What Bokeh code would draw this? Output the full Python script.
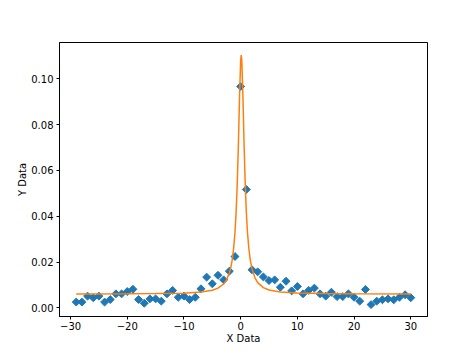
import math
from bokeh.plotting import figure
from bokeh.models import Range1d, FixedTicker
from bokeh.embed import file_html
from bokeh.resources import INLINE

# measured data points
x_data = [-29, -28, -27, -26, -25, -24, -23, -22, -21, -20,
          -19, -18, -17, -16, -15, -14, -13, -12, -11, -10,
          -9, -8, -7, -6, -5, -4, -3, -2, -1, 0,
          1, 2, 3, 4, 5, 6, 7, 8, 9, 10,
          11, 12, 13, 14, 15, 16, 17, 18, 19, 20,
          21, 22, 23, 24, 25, 26, 27, 28, 29, 30]
y_data = [0.0025, 0.0025, 0.0051, 0.0044, 0.0051, 0.0025, 0.0036, 0.0061, 0.0061, 0.0071,
          0.0081, 0.0036, 0.0020, 0.0039, 0.0039, 0.0029, 0.0061, 0.0076, 0.0046, 0.0051,
          0.0036, 0.0046, 0.0083, 0.0134, 0.0105, 0.0142, 0.0122, 0.0160, 0.0224, 0.0967,
          0.0517, 0.0166, 0.0157, 0.0135, 0.0119, 0.0122, 0.0090, 0.0116, 0.0074, 0.0093,
          0.0061, 0.0076, 0.0086, 0.0061, 0.0051, 0.0068, 0.0049, 0.0049, 0.0061, 0.0046,
          0.0029, 0.0080, 0.0014, 0.0029, 0.0035, 0.0039, 0.0035, 0.0046, 0.0057, 0.0044]

# fitted curve
fit_x = [-29, -20, -15, -10, -7, -5, -4, -3, -2.5, -2, -1.75, -1.5, -1.25, -1, -0.8,
         -0.6, -0.4, -0.2, 0, 0.1, 0.2, 0.4, 0.6, 0.8, 1.0, 1.2, 1.45, 1.7, 2.0, 2.5,
         3, 4, 5, 7, 10, 15, 20, 30]
fit_y = [0.0060, 0.0061, 0.0062, 0.0064, 0.0069, 0.0077, 0.0086, 0.0104, 0.0122, 0.0152,
         0.0175, 0.0208, 0.0257, 0.0330, 0.0418, 0.0544, 0.0716, 0.0922, 0.1080, 0.1104,
         0.1080, 0.0922, 0.0716, 0.0544, 0.0418, 0.0330, 0.0257, 0.0208, 0.0170, 0.0132,
         0.0110, 0.0088, 0.0078, 0.0069, 0.0065, 0.0062, 0.0061, 0.0060]

x_ticks = [-30, -20, -10, 0, 10, 20, 30]
x_tick_labels = ["\u221230", "\u221220", "\u221210", "0", "10", "20", "30"]
y_ticks = [0.0, 0.02, 0.04, 0.06, 0.08, 0.10]
y_tick_labels = ["0.00", "0.02", "0.04", "0.06", "0.08", "0.10"]

p = figure(width=474, height=355, output_backend="svg", toolbar_location=None,
           x_range=Range1d(-31.95, 32.95), y_range=Range1d(-0.0038, 0.1159),
           min_border_left=59, min_border_right=47, min_border_top=42, min_border_bottom=39)

p.scatter(x_data, y_data, marker="square", size=5.6, angle=math.pi / 4,
          fill_color="#1f77b4", line_color="#1f77b4")
p.line(fit_x, fit_y, line_color="#ff7f0e", line_width=1.5)

p.xgrid.visible = False
p.ygrid.visible = False
p.background_fill_color = "white"
p.border_fill_color = "white"
p.outline_line_color = "black"
p.outline_line_width = 1

p.xaxis.ticker = FixedTicker(ticks=x_ticks)
p.xaxis.major_label_overrides = dict(zip(x_ticks, x_tick_labels))
p.yaxis.ticker = FixedTicker(ticks=y_ticks)
p.yaxis.major_label_overrides = dict(zip(y_ticks, y_tick_labels))
p.xaxis.axis_label = "X Data"
p.yaxis.axis_label = "Y Data"

for ax in (p.xaxis, p.yaxis):
    ax.axis_line_color = "black"
    ax.major_tick_line_color = "black"
    ax.major_tick_out = 3
    ax.major_tick_in = 0
    ax.minor_tick_line_color = None
    ax.major_label_text_font = "DejaVu Sans"
    ax.major_label_text_font_size = "10px"
    ax.major_label_text_color = "black"
    ax.major_label_standoff = 3
    ax.axis_label_text_font = "DejaVu Sans"
    ax.axis_label_text_font_size = "10px"
    ax.axis_label_text_font_style = "normal"
    ax.axis_label_text_color = "black"
    ax.axis_label_standoff = 0

p.xaxis.major_label_standoff = 2

open("out.html", "w").write(file_html(p, INLINE))
